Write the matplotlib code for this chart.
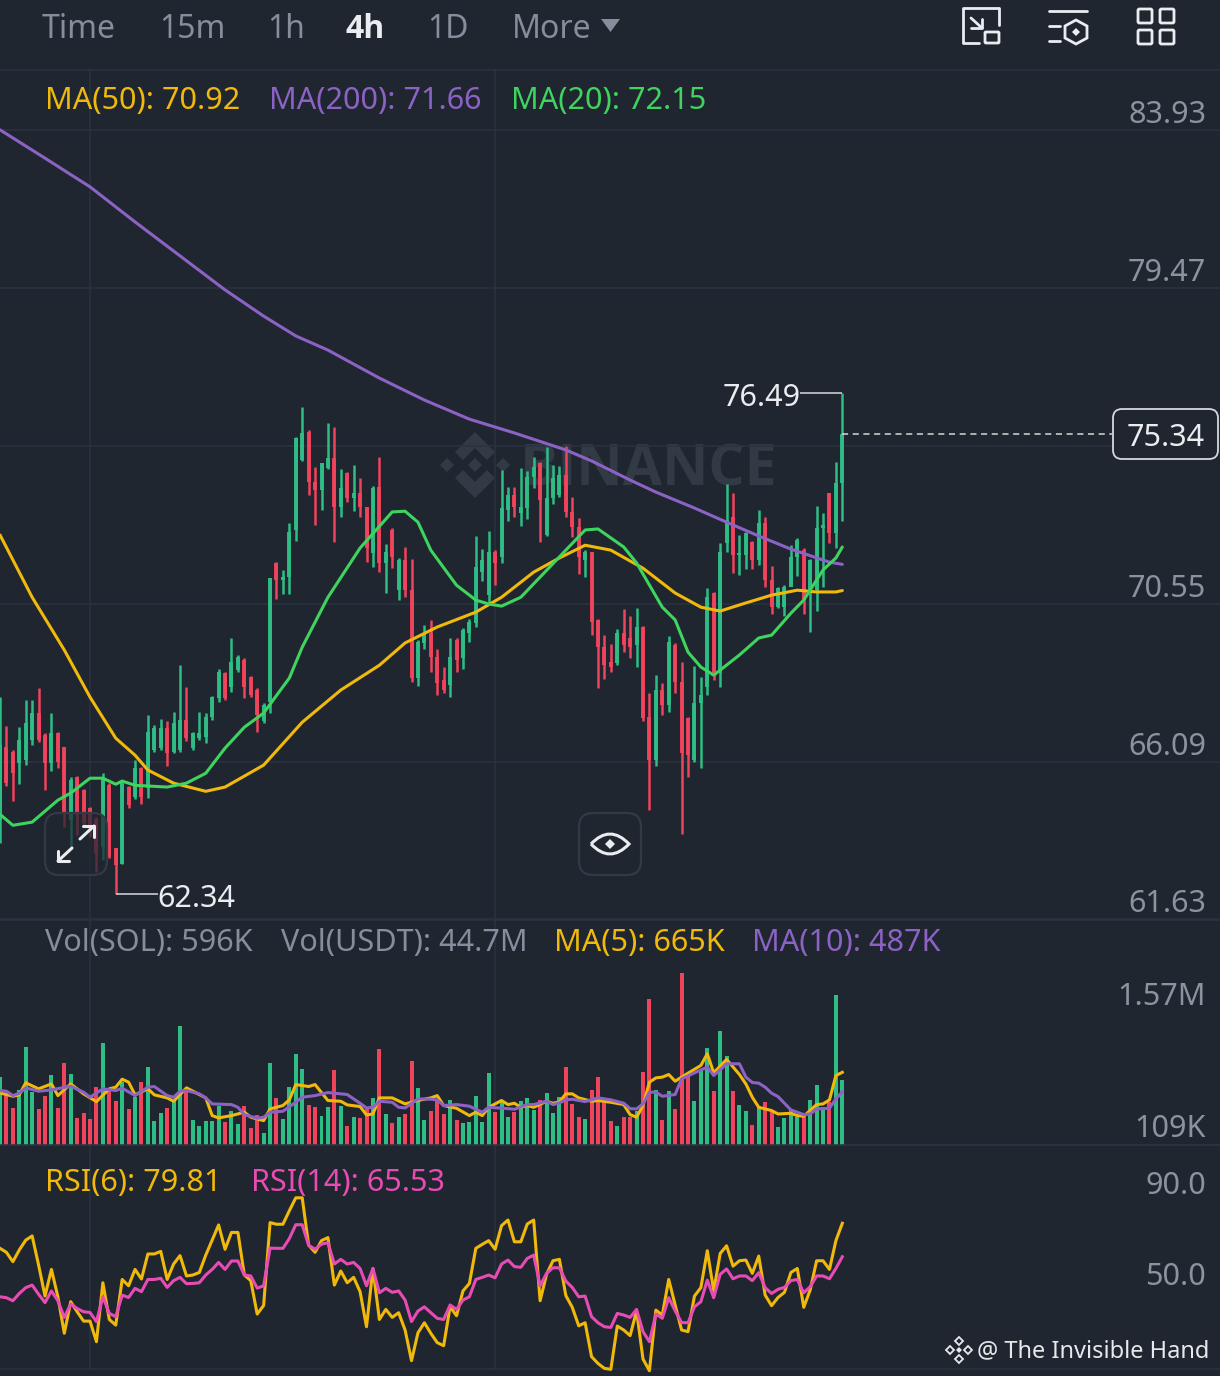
import matplotlib
matplotlib.use("Agg")
import matplotlib.pyplot as plt
from matplotlib.patches import FancyBboxPatch, Polygon, PathPatch
from matplotlib.path import Path

plt.rcParams['font.family'] = ['Noto Sans', 'DejaVu Sans']

# ---------------- data ----------------
high = [67.91,67.09,66.41,67.06,67.83,67.83,68.16,66.89,67.46,66.92,
        66.50,65.65,65.68,65.31,64.80,64.52,65.76,65.48,63.64,65.48,
        65.40,66.13,65.93,67.40,67.12,67.29,67.23,67.49,68.81,68.19,
        66.92,67.49,67.46,67.94,68.70,68.62,69.58,69.10,69.01,68.50,
        68.16,67.74,71.27,71.72,71.50,72.83,75.25,76.10,75.45,74.41,
        74.52,75.65,75.54,74.35,74.27,74.46,74.10,73.28,73.87,74.69,
        72.23,72.68,71.84,72.15,71.81,69.52,69.94,70.09,69.27,68.76,
        69.58,69.58,69.86,70.11,72.46,72.09,72.60,72.06,74.32,73.84,
        73.84,74.38,74.29,74.69,74.55,74.97,74.46,74.44,75.00,73.56,
        72.97,72.06,72.01,70.11,69.66,69.41,69.83,70.40,70.20,70.42,
        69.92,68.02,68.53,68.31,69.63,69.44,68.90,67.34,68.79,68.47,
        70.99,70.88,72.26,73.93,73.67,72.49,72.57,72.32,73.19,72.99,
        71.61,71.02,71.07,72.20,72.40,72.12,71.81,73.31,73.11,73.67,74.55,76.49]
low = [63.79,65.40,64.97,65.45,65.99,66.55,66.64,65.28,65.82,65.90,
       64.24,63.67,64.01,64.24,63.95,62.97,63.31,63.36,62.34,63.19,
       64.77,65.03,64.89,65.06,66.36,66.41,65.96,66.33,66.36,66.67,
       66.41,66.70,66.61,67.26,67.77,67.83,68.05,68.62,67.88,67.91,
       66.92,67.18,67.46,70.68,70.82,70.82,72.32,74.58,73.62,72.77,
       73.19,74.35,72.29,72.99,73.42,73.16,72.99,71.72,71.58,71.44,
       70.85,71.55,70.65,70.73,68.33,68.22,69.27,68.62,67.97,68.02,
       67.91,68.62,68.70,69.46,69.89,71.19,70.57,71.07,71.70,72.88,
       72.99,72.74,72.94,73.81,72.29,72.46,73.36,73.56,72.99,72.43,
       71.38,71.30,69.66,68.16,68.42,68.62,68.81,69.18,69.01,68.76,
       67.23,64.72,65.96,67.40,67.49,68.02,64.04,65.65,66.07,65.90,
       67.97,68.39,68.19,72.01,71.41,71.36,71.53,71.53,71.64,71.02,
       70.25,70.42,70.20,71.07,71.33,70.25,69.75,70.34,71.02,72.26,72.12,72.88]
open_ = [64.44,66.50,66.36,66.05,66.13,66.70,67.46,66.84,66.05,66.89,
         66.50,64.44,65.65,65.28,64.77,64.46,63.67,65.42,63.64,63.19,
         65.37,65.08,65.90,65.34,66.41,66.47,67.03,66.36,66.41,67.26,
         66.47,66.75,66.78,67.34,67.88,68.59,68.19,68.67,68.96,68.47,
         68.11,67.23,67.77,71.70,71.22,71.30,72.63,74.61,75.40,73.98,
         73.76,74.38,74.66,73.28,74.24,73.53,73.67,73.28,71.98,73.84,
         71.70,72.63,70.93,71.78,70.93,68.45,69.44,69.72,69.04,68.39,
         68.25,69.52,69.01,69.72,70.00,71.44,70.79,72.01,71.86,73.19,
         73.62,73.11,73.25,74.12,74.52,72.49,73.53,73.62,74.18,73.14,
         72.71,71.78,72.01,70.09,69.32,68.90,68.87,69.72,69.58,69.38,
         69.89,67.34,66.13,68.11,67.68,69.38,68.33,67.32,66.13,67.74,
         68.19,70.85,68.59,72.26,72.99,71.92,71.92,72.29,71.78,72.83,
         71.22,70.45,70.45,71.02,71.86,72.06,70.85,70.93,72.68,73.67,72.54,73.96]
close = [66.55,65.48,65.76,66.70,67.18,67.46,66.70,66.05,66.89,66.07,
         64.63,65.57,64.58,64.35,64.15,63.50,65.62,63.39,63.16,65.48,
         64.86,65.90,65.08,66.92,67.03,67.03,66.33,67.18,67.26,66.75,
         66.89,66.89,67.34,67.91,68.62,67.88,68.90,69.04,68.19,67.97,
         67.40,67.68,71.27,71.22,71.30,72.57,75.23,75.37,73.98,73.76,
         74.52,74.66,73.28,73.81,73.53,73.67,73.28,72.12,73.81,71.70,
         72.01,71.86,71.78,70.93,68.45,69.46,69.72,69.04,68.31,68.11,
         69.04,68.96,69.80,70.03,71.58,71.78,72.01,71.70,73.25,73.62,
         73.28,73.28,74.12,74.41,73.48,73.53,74.10,74.18,73.14,72.71,
         71.86,72.01,70.03,69.32,68.81,68.76,69.72,69.38,69.32,69.89,
         67.32,66.13,68.11,67.68,69.46,68.33,66.33,66.27,67.74,67.97,
         70.73,68.59,72.01,72.91,71.92,71.98,72.54,71.78,72.83,71.22,
         70.45,70.99,71.02,71.86,72.35,70.65,71.78,72.68,72.77,72.54,73.96,75.34]

ma200_idx = [0,7,14,21,28,35,41,46,51,59,66,73,80,88,92,98,102,108,113,118,123,129,131]
ma200_val = [83.93,83.13,82.32,81.33,80.37,79.41,78.67,78.11,77.71,76.92,76.30,75.76,75.37,
             74.89,74.58,74.04,73.70,73.25,72.85,72.46,72.09,71.72,71.66]
ma50_idx = [0,5,10,14,18,21,23,27,32,35,41,47,53,59,63,68,74,78,83,87,91,95,100,103,105,109,112,116,120,124,127,130,131]
ma50_val = [72.49,70.73,69.24,67.91,66.75,66.27,65.85,65.48,65.25,65.37,65.99,67.20,68.11,68.81,
            69.44,69.89,70.31,70.73,71.44,71.84,72.20,72.06,71.55,71.13,70.85,70.45,70.34,70.57,
            70.79,70.93,70.88,70.88,70.92]
ma20_idx = [0,2,5,9,11,14,16,18,19,21,26,29,32,35,38,41,45,47,51,56,61,63,65,67,71,74,76,78,81,84,88,
            91,93,97,99,103,105,107,109,111,115,118,120,123,125,128,130,131]
ma20_val = [64.60,64.29,64.38,65.00,65.20,65.62,65.62,65.45,65.54,65.42,65.37,65.48,65.76,66.47,
            67.06,67.46,68.45,69.32,70.73,72.12,73.14,73.16,72.85,72.06,71.07,70.65,70.54,70.48,
            70.73,71.30,72.06,72.63,72.66,72.15,71.70,70.45,70.09,69.18,68.76,68.53,69.10,69.58,
            69.66,70.28,70.65,71.50,71.84,72.15]

volume_k = [621,468,336,504,896,489,330,452,636,336,
            749,651,248,290,238,535,932,498,407,575,
            330,443,575,712,223,290,336,407,1085,483,
            229,177,223,223,361,208,309,193,361,156,
            278,109,749,431,238,529,835,691,370,345,
            269,345,682,361,177,260,245,330,431,880,
            284,202,254,284,773,520,229,315,407,284,
            413,229,199,208,452,214,660,306,391,254,
            300,400,431,321,413,474,293,437,718,376,
            260,238,504,621,407,223,171,260,254,315,
            666,1339,504,229,498,330,1570,636,407,682,
            887,498,1042,810,492,367,315,183,345,391,
            300,168,245,330,254,254,413,550,345,391,1370,596]

vol_ma5_idx = [0,2,3,4,6,8,9,11,13,15,17,18,19,20,21,23,24,26,27,29,32,33,34,36,38,39,41,42,44,45,46,48,49,51,53,54,56,57,58,59,61,63,65,67,
               68,69,71,73,74,75,76,78,79,80,81,82,83,85,86,87,88,89,90,91,92,93,95,97,98,99,100,101,102,103,104,105,107,109,110,111,113,115,116,117,118,120,121,123,124,125,127,128,129,130,131]
vol_ma5_val = [477,446,459,569,514,559,452,559,468,397,514,529,602,575,459,514,459,431,400,523,431,269,248,269,300,254,223,330,361,413,553,535,553,407,400,367,352,275,284,431,431,376,407,431,
               452,361,336,269,300,269,345,407,370,382,345,361,345,400,382,394,468,468,431,416,400,407,391,370,278,254,361,575,614,621,645,584,657,728,835,660,783,645,559,437,345,315,284,290,269,263,370,376,413,636,665]
vol_ma10_idx = [0,1,2,3,4,6,8,11,13,14,16,18,19,21,23,24,26,27,28,29,31,32,33,36,37,38,40,41,42,44,46,47,49,51,54,56,57,58,59,61,62,63,65,67,
                68,69,71,73,75,76,79,80,82,83,85,86,87,88,89,91,93,95,97,98,99,100,101,102,103,105,106,108,110,111,113,115,116,117,118,119,120,121,123,125,126,127,129,130,131]
vol_ma10_val = [498,492,452,474,523,492,504,538,483,437,514,498,520,452,529,535,452,437,492,498,468,431,376,370,345,278,245,254,300,309,391,437,452,480,462,382,339,345,400,391,345,339,422,419,
                413,361,370,355,300,345,333,327,370,370,400,370,385,413,419,397,431,413,382,333,330,376,483,483,446,462,605,660,712,636,743,743,621,572,566,529,474,443,321,278,284,330,336,422,487]

rsi6 = [69.1,67.4,63.4,68.4,72.6,74.4,62.0,48.7,60.1,48.4,
        32.8,46.3,42.0,38.0,38.0,29.2,54.4,38.7,36.3,55.8,
        53.1,60.1,56.0,66.7,66.7,67.8,55.8,62.4,66.0,57.3,
        57.7,58.8,66.2,72.6,79.1,68.7,75.9,75.9,57.7,55.3,
        41.0,44.7,80.1,79.4,79.4,85.2,90.7,90.7,70.5,67.4,
        72.4,73.7,53.4,59.4,54.4,56.7,50.6,35.6,60.5,38.7,
        43.0,39.6,41.6,34.2,21.1,33.0,37.3,32.8,
        28.8,27.5,44.2,40.3,50.9,54.1,69.1,70.8,72.4,68.7,
        78.8,81.2,71.9,71.9,79.5,81.2,46.7,58.0,63.8,64.4,
        48.9,43.9,36.0,37.3,22.8,19.9,17.8,17.4,35.9,34.2,
        31.8,42.4,21.8,16.8,42.7,40.6,55.8,44.9,34.2,33.5,
        48.7,52.3,68.1,50.9,66.9,70.2,61.5,63.8,64.1,58.4,
        65.8,49.1,44.6,48.1,50.3,58.8,60.5,43.9,51.3,63.8,
        63.8,60.1,72.4,79.81]
rsi14 = [48.4,48.0,46.7,49.8,52.3,53.4,49.5,45.9,50.9,46.7,
         39.6,45.3,43.4,42.0,41.7,37.8,48.4,41.3,39.9,49.1,
         48.1,52.0,50.6,55.8,55.8,56.3,52.4,55.3,56.7,54.0,
         54.1,54.4,57.7,60.1,63.1,60.1,63.7,63.7,57.7,57.3,
         52.1,53.1,69.2,69.1,69.1,73.3,79.2,79.2,70.4,68.7,
         70.9,71.5,62.4,64.4,62.4,63.1,60.5,53.1,60.5,50.1,
         52.0,50.3,50.9,47.0,37.8,42.3,44.1,41.6,
         39.2,38.7,44.9,43.0,47.0,48.4,55.8,56.7,57.7,56.5,
         62.4,64.1,61.3,61.0,64.8,66.2,53.1,58.4,60.8,60.8,
         55.1,52.4,48.4,48.7,39.9,37.3,35.6,35.3,41.3,40.6,
         39.6,43.0,33.5,29.2,41.0,39.2,48.0,42.4,37.4,37.3,
         44.1,46.3,55.5,48.0,58.0,60.3,56.1,57.3,57.3,55.3,
         58.7,52.3,49.8,51.6,52.4,55.3,55.8,50.1,52.7,57.3,
         57.3,56.1,60.5,65.53]

price_ticks = [83.93, 79.47, 75.01, 70.55, 66.09, 61.63]
price_tick_labels = ['83.93', '79.47', '', '70.55', '66.09', '61.63']
rsi_ticks = [90.0, 50.0]
rsi_tick_labels = ['90.0', '50.0']
tabs = ['Time', '15m', '1h', '4h', '1D', 'More']

# ---------------- style ----------------
W, H = 1220, 1376
BG = '#1f2630'
GRID = '#2c3340'
UP = '#2ebd85'
DOWN = '#f0435c'
YEL = '#f0b90b'
PUR = '#8c62c4'
GRN = '#3ed45e'
PINK = '#e84cb4'
GRAY = '#848e9c'
LBL = '#8b939f'
WHITE = '#eaecef'
FS = 22
LW = 2.2
PX = 1 / 6.43          # one pixel in index units

fig = plt.figure(figsize=(W / 100, H / 100), dpi=100, facecolor=BG)


def panel(top, bottom, z=1):
    a = fig.add_axes([0, 1 - bottom / H, 1, (bottom - top) / H], zorder=z)
    a.patch.set_visible(False)
    for s in ('left', 'right'):
        a.spines[s].set_visible(False)
    for s in ('top', 'bottom'):
        a.spines[s].set_color(GRID)
        a.spines[s].set_linewidth(1.1)
    a.set_xlim(0, W / 6.43)
    a.set_xticks([14, 77])
    a.tick_params(length=0, labelleft=False, labelbottom=False)
    a.grid(True, color=GRID, lw=1.1)
    a.set_axisbelow(True)
    return a


def overlay(z):
    a = fig.add_axes([0, 0, 1, 1], zorder=z)
    a.set_xlim(0, W)
    a.set_ylim(H, 0)
    a.axis('off')
    return a


under = overlay(0)
ax = panel(70, 919.5)
axv = panel(919.5, 1145)
axr = panel(1145, 1369)
top_layer = overlay(5)

# watermark under the chart
WM = '#323a45'
under.text(520, 470, 'BINANCE', color=WM, fontsize=41, family='Open Sans', fontweight='bold', ha='left', va='center')
cx, cy = 475, 465
for dx in (-28, 0, 28):
    under.add_patch(Polygon([(cx + dx - 7, cy), (cx + dx, cy - 7), (cx + dx + 7, cy), (cx + dx, cy + 7)], color=WM, lw=0))
for s in (-1, 1):
    under.add_patch(Polygon([(cx, cy + s * 33), (cx + 20, cy + s * 13), (cx + 12, cy + s * 5), (cx, cy + s * 17),
                             (cx - 12, cy + s * 5), (cx - 20, cy + s * 13)], color=WM, lw=0))

# ---------------- price panel ----------------
ax.set_ylim(61.63, 85.62)
ax.set_yticks(price_ticks)
idx = list(range(len(close)))
cols = [UP if c >= o else DOWN for o, c in zip(open_, close)]
ax.vlines(idx, low, high, colors=cols, lw=1.8, capstyle='butt', zorder=3)
ax.vlines(idx, [min(o, c) for o, c in zip(open_, close)], [max(o, c) for o, c in zip(open_, close)],
          colors=cols, lw=2.8, capstyle='butt', zorder=3)
ax.plot(ma200_idx, ma200_val, color=PUR, lw=LW, zorder=4, solid_capstyle='round')
ax.plot(ma50_idx, ma50_val, color=YEL, lw=LW, zorder=5, solid_capstyle='round')
ax.plot(ma20_idx, ma20_val, color=GRN, lw=LW, zorder=6, solid_capstyle='round')


def right_label(a, val, txt, dy_px, color=LBL):
    a.annotate(txt, xy=(1, val), xycoords=('axes fraction', 'data'),
               xytext=(-14 * 0.72, dy_px * 0.72), textcoords='offset points',
               ha='right', va='center', color=color, fontsize=FS, zorder=8)


for v, t in zip(price_ticks, price_tick_labels):
    if t:
        right_label(ax, v, t, 15)

# high / low markers
i_hi, i_lo = high.index(max(high)), low.index(min(low))
ax.hlines(max(high), i_hi - 42 * PX, i_hi, color='#c9ccd1', lw=1.2, zorder=7)
ax.hlines(min(low), i_lo, i_lo + 42 * PX, color='#c9ccd1', lw=1.2, zorder=7)
ax.annotate(f'{max(high):.2f}', xy=(i_hi, max(high)), xytext=(-42 * 0.72, -3.5), textcoords='offset points',
            ha='right', va='center', color=WHITE, fontsize=FS)
ax.annotate(f'{min(low):.2f}', xy=(i_lo, min(low)), xytext=(42 * 0.72, -3.5), textcoords='offset points',
            ha='left', va='center', color=WHITE, fontsize=FS)

# last price line and box
ax.hlines(close[-1], idx[-1], 1112 * PX, color='#d5d8dc', lw=1.1, linestyles=(0, (4, 3)), zorder=7)
top_layer.add_patch(FancyBboxPatch((1113, 409), 105, 50, boxstyle='round,pad=0,rounding_size=9',
                                   fc=BG, ec='#d5d8dc', lw=1.3))
top_layer.text(1205, 438.5, f'{close[-1]:.2f}', color=WHITE, fontsize=FS, ha='right', va='center')

# ---------------- volume panel ----------------
axv.set_ylim(0, 225 * 9.17)
axv.set_yticks([])
axv.bar(idx, volume_k, width=0.62, color=cols, lw=0, zorder=3)
axv.plot(vol_ma5_idx, vol_ma5_val, color=YEL, lw=LW, zorder=4)
axv.plot(vol_ma10_idx, vol_ma10_val, color=PUR, lw=LW, zorder=5)
right_label(axv, max(volume_k), '1.57M', -24)
right_label(axv, min(volume_k), '109K', 4)

# ---------------- RSI panel ----------------
axr.set_ylim(65.53 + (1256.7 - 1369) / 2.34, 65.53 + (1256.7 - 1145) / 2.34)
axr.set_yticks([])
axr.plot(idx, rsi6, color=YEL, lw=LW, zorder=4, clip_on=False)
axr.plot(idx, rsi14, color=PINK, lw=LW, zorder=5, clip_on=False)
for v, t, d in zip(rsi_ticks, rsi_tick_labels, (13, 16)):
    right_label(axr, v, t, d)


# ---------------- legends ----------------
def T(x, y, s, c, **kw):
    top_layer.text(x, y + 2.5, s, color=c, fontsize=kw.pop('fs', FS), ha='left', va='center', **kw)


T(45, 98, 'MA(50): 70.92', YEL)
T(269, 98, 'MA(200): 71.66', PUR)
T(511, 98, 'MA(20): 72.15', GRN)
T(45, 941, 'Vol(SOL): 596K', GRAY)
T(281, 941, 'Vol(USDT): 44.7M', GRAY)
T(554, 941, 'MA(5): 665K', YEL)
T(752, 941, 'MA(10): 487K', PUR)
T(45, 1180, 'RSI(6): 79.81', YEL)
T(251, 1180, 'RSI(14): 65.53', PINK)

# ---------------- top tabs ----------------
for x, s in zip([42, 159, 267, 346, 427, 512], tabs):
    if s == '4h':
        T(x, 27, s, WHITE, fontweight='bold', family='Open Sans', fs=23)
    else:
        T(x, 27, s, GRAY, fs=23)
top_layer.add_patch(Polygon([(601, 19), (620, 19), (610.5, 32)], color=GRAY, lw=0))


# ---------------- icons ----------------
def L(xs, ys, c=WHITE, lw=2.0):
    top_layer.plot(xs, ys, color=c, lw=lw, solid_capstyle='round', solid_joinstyle='round')


L([979, 963, 963, 999, 999], [43, 43, 8, 8, 25])
L([971, 982], [18, 28])
L([971, 982, 982], [28, 28, 19])
top_layer.add_patch(FancyBboxPatch((985, 32), 14, 11, boxstyle='round,pad=0,rounding_size=1', fc='none', ec=WHITE, lw=2))
L([1049, 1087], [11, 11])
L([1049, 1060], [26, 26])
L([1049, 1060], [41, 41])
hexa = [(1076, 20), (1087, 26), (1087, 38), (1076, 44), (1065, 38), (1065, 26)]
top_layer.add_patch(Polygon(hexa, closed=True, fc='none', ec=WHITE, lw=2))
top_layer.add_patch(Polygon([(1076, 28), (1080, 32), (1076, 36), (1072, 32)], color=WHITE, lw=0))
for x0, y0 in [(1138, 9), (1160, 9), (1138, 30), (1160, 30)]:
    top_layer.add_patch(FancyBboxPatch((x0, y0), 14, 14, boxstyle='round,pad=0,rounding_size=1.5', fc='none', ec=WHITE, lw=2))

# ---------------- floating buttons ----------------
for x0 in (45, 579):
    top_layer.add_patch(FancyBboxPatch((x0, 813), 62, 62, boxstyle='round,pad=0,rounding_size=14',
                                       fc=BG, alpha=0.72, ec='none'))
    top_layer.add_patch(FancyBboxPatch((x0, 813), 62, 62, boxstyle='round,pad=0,rounding_size=14',
                                       fc='none', ec='#333a46', lw=1.6))
L([58, 72], [861, 848], lw=2.2)
L([58, 58, 69], [851, 861, 861], lw=2.2)
L([80, 94], [839, 826], lw=2.2)
L([83, 94, 94], [826, 826, 837], lw=2.2)
eye = Path([(591, 844), (610, 824), (629, 844), (610, 864), (591, 844)],
           [Path.MOVETO, Path.CURVE3, Path.CURVE3, Path.CURVE3, Path.CURVE3])
top_layer.add_patch(PathPatch(eye, fc='none', ec=WHITE, lw=2.2))
top_layer.add_patch(Polygon([(610, 839), (615, 844), (610, 849), (605, 844)], color=WHITE, lw=0))

# ---------------- credit ----------------
T(977, 1349, '@ The Invisible Hand', '#e6e8ea', fs=17)
for dx, dy in [(0, -9), (-9, 0), (9, 0), (0, 9)]:
    top_layer.add_patch(Polygon([(959 + dx - 4, 1350 + dy), (959 + dx, 1350 + dy - 4),
                                 (959 + dx + 4, 1350 + dy), (959 + dx, 1350 + dy + 4)],
                                fc='none', ec='#e6e8ea', lw=1.3))
top_layer.add_patch(Polygon([(959, 1347), (962, 1350), (959, 1353), (956, 1350)], color='#e6e8ea', lw=0))

fig.savefig('out.png', dpi=100, facecolor=BG)
